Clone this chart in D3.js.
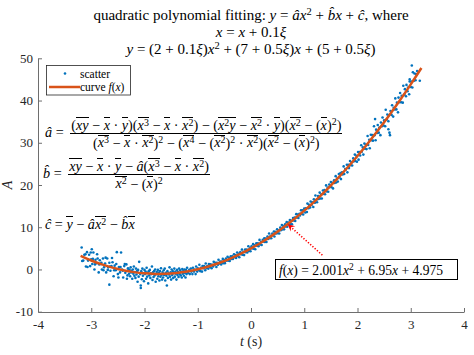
<!DOCTYPE html>
<html><head><meta charset="utf-8">
<script src="https://cdn.jsdelivr.net/npm/d3@7"></script>
<style>
html,body{margin:0;padding:0;background:#fff;}
#wrap{position:relative;width:474px;height:355px;overflow:hidden;font-family:"Liberation Serif","Times New Roman",serif;color:#000;}
svg{position:absolute;left:0;top:0;}
.m{font-style:italic;}
.title{position:absolute;left:0;width:502px;text-align:center;font-size:15px;line-height:16px;white-space:nowrap;}
.eq{position:absolute;font-size:14.2px;white-space:nowrap;line-height:1;}
.frac{display:inline-flex;flex-direction:column;align-items:center;vertical-align:middle;margin-left:3px;}
.num{border-bottom:0.8px solid #000;padding:0 1px 1px;line-height:0.95;}
.den{padding:1px 1px 0;line-height:0.95;}
.ol{display:inline-block;border-top:0.8px solid #000;padding-top:0.5px;line-height:0.9;}
sup{font-size:0.7em;vertical-align:0.45em;line-height:0;}
</style>
</head><body>
<div id="wrap">
<svg id="chart" width="474" height="355"></svg>
<div class="title" style="top:7px">quadratic polynomial fitting: <span class="m">y</span> = <span class="m">âx</span><sup>2</sup> + <span class="m">b̂x</span> + <span class="m">ĉ</span>, where</div>
<div class="title" style="top:23.5px"><span class="m">x</span> = <span class="m">x</span> + 0.1<span class="m">ξ</span></div>
<div class="title" style="top:41px"><span class="m">y</span> = (2 + 0.1<span class="m">ξ</span>)<span class="m">x</span><sup>2</sup> + (7 + 0.5<span class="m">ξ</span>)<span class="m">x</span> + (5 + 0.5<span class="m">ξ</span>)</div>

<div class="eq" style="left:45px;top:117px"><span class="m">â</span> = <span class="frac"><span class="num">(<span class="ol m">xy</span> − <span class="ol m">x</span> · <span class="ol m">y</span>)(<span class="ol"><span class="m">x</span><sup>3</sup></span> − <span class="ol m">x</span> · <span class="ol"><span class="m">x</span><sup>2</sup></span>) − (<span class="ol"><span class="m">x</span><sup>2</sup><span class="m">y</span></span> − <span class="ol"><span class="m">x</span><sup>2</sup></span> · <span class="ol m">y</span>)(<span class="ol"><span class="m">x</span><sup>2</sup></span> − (<span class="ol m">x</span>)<sup>2</sup>)</span><span class="den">(<span class="ol"><span class="m">x</span><sup>3</sup></span> − <span class="ol m">x</span> · <span class="ol"><span class="m">x</span><sup>2</sup></span>)<sup>2</sup> − (<span class="ol"><span class="m">x</span><sup>4</sup></span> − (<span class="ol"><span class="m">x</span><sup>2</sup></span>)<sup>2</sup> · <span class="ol"><span class="m">x</span><sup>2</sup></span>)(<span class="ol"><span class="m">x</span><sup>2</sup></span> − (<span class="ol m">x</span>)<sup>2</sup>)</span></span></div>

<div class="eq" style="left:43px;top:158px"><span class="m">b̂</span> = <span class="frac"><span class="num"><span class="ol m">xy</span> − <span class="ol m">x</span> · <span class="ol m">y</span> − <span class="m">â</span>(<span class="ol"><span class="m">x</span><sup>3</sup></span> − <span class="ol m">x</span> · <span class="ol"><span class="m">x</span><sup>2</sup></span>)</span><span class="den"><span class="ol"><span class="m">x</span><sup>2</sup></span> − (<span class="ol m">x</span>)<sup>2</sup></span></span></div>

<div class="eq" style="left:45px;top:216px"><span class="m">ĉ</span> = <span class="ol m">y</span> − <span class="m">â</span><span class="ol"><span class="m">x</span><sup>2</sup></span> − <span class="m">b̂</span><span class="ol m">x</span></div>
</div>
<script>
const xTicks = [-4, -3, -2, -1, 0, 1, 2, 3, 4];
const yTicks = [-10, 0, 10, 20, 30, 40, 50];
const legendLabels = ["scatter", "curve f(x)"];
// fitted curve f(x) = 2.001x^2 + 6.95x + 4.975 sampled
const curveX = [-3.2,-3.0,-2.8,-2.6,-2.4,-2.2,-2.0,-1.8,-1.6,-1.4,-1.2,-1.0,-0.8,-0.6,-0.4,-0.2,0,0.2,0.4,0.6,0.8,1.0,1.2,1.4,1.6,1.8,2.0,2.2,2.4,2.6,2.8,3.0,3.2];
const curveY = [3.23,2.13,1.20,0.43,-0.18,-0.63,-0.92,-1.05,-1.02,-0.83,-0.48,0.03,0.70,1.53,2.52,3.67,4.98,6.45,8.08,9.87,11.82,13.93,16.20,18.63,21.22,23.97,26.88,29.95,33.18,36.57,40.12,43.83,47.71];
// annotation arrow: tail and head in data units
const arrowTail = [1.34, 3.4];
const arrowHead = [0.69, 10.7];
const scatterPts = [
[-3.18,5.2],[-3.17,2.0],[-3.15,2.1],[-3.13,3.5],[-3.11,3.6],[-3.10,0.7],[-3.08,4.1],[-3.07,0.6],[-3.06,2.1],[-3.04,3.5],[-3.02,0.8],[-3.01,4.0],[-3.00,2.4],[-2.99,4.8],[-2.98,1.3],[-2.97,2.5],[-2.96,4.0],[-2.94,0.0],[-2.93,1.2],[-2.92,2.3],[-2.90,1.5],[-2.89,3.6],[-2.88,2.6],[-2.86,-0.7],[-2.85,1.2],[-2.84,2.2],[-2.82,1.3],[-2.81,1.6],[-2.80,0.0],[-2.78,2.6],[-2.77,-0.2],[-2.76,0.5],[-2.74,1.4],[-2.73,2.8],[-2.72,-0.7],[-2.70,2.6],[-2.69,-0.1],[-2.68,0.5],[-2.66,1.6],[-2.66,-3.6],[-2.65,0.7],[-2.64,-0.3],[-2.62,0.8],[-2.61,2.7],[-2.60,1.7],[-2.58,-1.6],[-2.57,-0.2],[-2.56,0.9],[-2.54,-0.2],[-2.53,1.3],[-2.52,4.1],[-2.50,-1.1],[-2.49,-1.9],[-2.48,0.6],[-2.46,-0.7],[-2.45,0.6],[-2.44,4.0],[-2.42,0.0],[-2.41,-0.3],[-2.40,-1.9],[-2.38,0.8],[-2.37,1.3],[-2.36,-0.8],[-2.34,1.2],[-2.33,-2.2],[-2.32,-1.4],[-2.31,0.3],[-2.30,0.0],
[-2.29,-1.0],[-2.28,-0.1],[-2.27,-1.6],[-2.26,0.5],[-2.25,-0.7],[-2.24,-0.3],[-2.23,-2.2],[-2.22,0.0],[-2.21,-1.0],[-2.20,0.7],[-2.19,-1.5],[-2.18,-0.6],[-2.17,-2.0],[-2.16,0.2],[-2.15,-1.2],[-2.14,-0.4],[-2.13,-2.9],[-2.12,-0.1],[-2.11,-1.7],[-2.10,1.8],[-2.08,-1.1],[-2.07,-4.4],[-2.07,-3.8],[-2.06,-0.4],[-2.05,-2.3],[-2.04,0.2],[-2.03,-1.5],[-2.02,-0.9],[-2.01,-2.8],[-2.00,-0.1],[-1.99,-1.1],[-1.98,-0.5],[-1.97,-2.2],[-1.96,0.4],[-1.95,-1.7],[-1.94,-0.8],[-1.93,-3.3],[-1.92,-0.4],[-1.91,-1.4],[-1.90,-0.1],[-1.89,-2.0],[-1.88,-0.9],[-1.87,-1.1],[-1.86,0.7],[-1.85,-2.5],[-1.84,-0.7],[-1.83,-1.8],[-1.82,-0.4],[-1.81,-1.4],[-1.80,0.0],[-1.79,-2.9],[-1.78,-1.1],[-1.77,-0.6],[-1.76,-2.2],[-1.75,-0.1],[-1.74,-1.6],[-1.73,-0.8],[-1.72,-2.6],[-1.71,-0.4],[-1.70,-1.7],[-1.69,0.3],[-1.68,-1.3],[-1.67,-2.4],[-1.66,-0.7],[-1.65,-1.9],[-1.64,-0.2],[-1.63,-1.3],[-1.62,0.2],[-1.61,-2.6],[-1.60,-0.8],[-1.59,-1.5],[-1.58,-3.8],[-1.57,-0.4],[-1.56,-2.0],[-1.55,-0.9],[-1.54,-1.2],[-1.53,0.5],[-1.52,-1.7],[-1.51,-0.7],[-1.50,-2.4],[-1.49,0.0],[-1.48,-1.3],[-1.47,-0.4],[-1.46,-2.0],[-1.45,-0.9],[-1.44,0.2],[-1.43,-1.7],[-1.42,-0.5],[-1.41,-1.0],[-1.40,-2.4],[-1.39,-0.1],[-1.38,-1.3],[-1.37,-0.6],[-1.36,-1.8],[-1.35,0.2],[-1.34,-1.1],[-1.33,-0.2],[-1.32,-1.4],[-1.31,-0.6],[-1.30,-1.9],[-1.29,0.1],[-1.28,-1.0],[-1.27,-0.3],[-1.26,-1.5],[-1.25,0.0],[-1.24,-0.8],[-1.23,-1.9],[-1.22,-0.1],[-1.21,-1.1],[-1.20,0.4],
[-1.18,-0.8],[-1.16,-0.1],[-1.15,-1.1],[-1.13,0.2],[-1.12,-0.5],[-1.10,-1.1],[-1.09,0.4],[-1.07,-0.5],[-1.06,0.0],[-1.04,-1.1],[-1.03,0.7],[-1.01,-0.5],[-1.00,0.3],[-0.98,-0.1],[-0.97,1.1],[-0.95,-0.4],[-0.94,0.4],[-0.92,-0.5],[-0.91,0.8],[-0.89,0.3],[-0.88,0.8],[-0.86,-0.2],[-0.85,1.4],[-0.83,0.3],[-0.82,0.8],[-0.80,0.2],[-0.79,1.3],[-0.77,0.6],[-0.76,1.2],[-0.74,0.3],[-0.73,1.1],[-0.71,0.7],[-0.70,1.8],[-0.68,1.1],[-0.67,1.6],[-0.65,0.6],[-0.64,1.6],[-0.62,1.1],[-0.61,2.3],[-0.59,1.4],[-0.58,1.9],[-0.56,1.2],[-0.55,1.9],[-0.53,2.5],[-0.52,1.5],[-0.50,2.2],[-0.49,1.5],[-0.47,2.6],[-0.46,2.1],[-0.44,3.0],[-0.43,2.1],[-0.41,2.7],[-0.40,2.0],[-0.38,3.1],[-0.37,2.5],[-0.35,3.1],[-0.34,2.5],[-0.32,3.6],[-0.31,2.9],
[-0.29,3.4],[-0.28,2.7],[-0.26,4.0],[-0.25,3.2],[-0.23,3.7],[-0.22,2.9],[-0.20,4.1],[-0.19,3.6],[-0.17,4.7],[-0.16,3.5],[-0.14,4.2],[-0.13,3.4],[-0.11,4.7],[-0.10,4.1],[-0.08,4.7],[-0.07,4.0],[-0.05,5.5],[-0.04,4.4],[-0.02,5.0],[-0.01,4.3],[0.01,5.5],[0.02,5.0],[0.04,6.0],[0.05,4.9],[0.07,5.7],[0.08,4.8],[0.10,6.2],[0.11,5.6],[0.13,6.2],[0.14,5.5],[0.16,7.0],[0.17,5.9],[0.19,6.5],[0.20,5.8],[0.22,7.0],[0.23,6.6],[0.25,7.4],[0.26,6.5],[0.28,7.3],[0.29,6.5],[0.31,7.8],[0.32,7.2],[0.34,8.5],[0.35,7.4],[0.37,8.0],[0.38,7.4],[0.40,8.5],[0.41,8.1],[0.43,9.0],[0.44,7.8],[0.46,8.9],[0.47,8.5],[0.49,9.5],[0.50,8.6],[0.52,9.2],[0.53,8.5],[0.55,9.9],[0.56,9.3],[0.58,10.5],[0.59,9.5],[0.61,10.2],[0.62,9.5],[0.64,10.7],[0.65,10.2],[0.67,11.2],[0.68,10.1],[0.70,11.1],[0.71,10.7],[0.73,11.7],[0.74,10.8],[0.76,11.5],[0.77,10.7],[0.79,12.2],[0.80,11.6],[0.82,12.3],[0.83,11.5],[0.85,13.1],[0.86,12.3],[0.88,13.0],[0.89,12.2],[0.91,13.2],[0.92,12.8],[0.94,14.0],[0.95,13.2],[0.97,14.0],[0.98,13.0],
[1.00,14.4],[1.02,13.5],[1.03,14.5],[1.05,13.6],[1.06,15.6],[1.08,14.5],[1.09,15.3],[1.11,14.7],[1.12,16.1],[1.14,15.3],[1.15,15.9],[1.17,14.8],[1.18,16.6],[1.20,15.8],[1.21,17.5],[1.23,16.5],[1.24,15.9],[1.26,17.4],[1.27,16.7],[1.29,18.2],[1.30,16.8],[1.32,17.8],[1.33,16.8],[1.35,18.7],[1.36,17.9],[1.38,18.8],[1.39,17.8],[1.41,19.9],[1.42,18.5],[1.44,19.4],[1.45,18.4],[1.47,20.1],[1.48,19.5],[1.50,20.7],[1.51,19.5],[1.53,20.5],[1.54,19.2],[1.56,21.1],[1.57,20.5],[1.59,22.1],[1.60,20.6],[1.62,21.6],[1.63,20.8],[1.65,22.6],[1.66,21.8],[1.68,22.8],[1.69,21.4],[1.71,23.0],[1.72,22.5],[1.74,24.4],[1.75,22.6],[1.77,23.8],[1.78,23.6],[1.80,24.8],[1.81,23.0],[1.83,24.8],[1.84,24.0],[1.86,25.7],[1.87,24.7],[1.89,25.4],[1.90,24.6],[1.92,26.3],[1.93,25.6],[1.95,27.2],[1.96,25.7],[1.98,26.9],[1.99,25.5],
[2.01,27.8],[2.02,26.0],[2.04,27.8],[2.05,27.0],[2.07,29.4],[2.08,27.9],[2.10,28.9],[2.11,27.2],[2.13,29.8],[2.14,28.6],[2.16,29.5],[2.17,28.5],[2.19,31.6],[2.20,29.5],[2.22,30.7],[2.23,28.7],[2.25,31.9],[2.26,30.6],[2.28,31.8],[2.29,30.5],[2.31,33.9],[2.32,31.8],[2.33,35.6],[2.34,30.6],[2.35,33.1],[2.37,32.3],[2.38,34.2],[2.40,32.4],[2.41,33.6],[2.43,31.8],[2.44,34.8],[2.46,33.9],[2.47,36.0],[2.49,34.1],[2.50,35.3],[2.52,33.9],[2.53,37.8],[2.55,35.5],[2.56,36.7],[2.58,35.1],[2.58,33.2],[2.59,36.5],[2.60,32.4],[2.61,31.8],[2.62,37.5],[2.64,36.6],[2.65,38.9],[2.67,36.2],[2.68,38.3],[2.70,37.9],[2.71,40.5],[2.73,37.9],[2.74,39.5],[2.76,37.2],[2.77,40.7],[2.79,39.6],[2.80,41.8],[2.82,39.6],[2.83,41.1],[2.85,39.5],[2.86,43.5],[2.88,41.4],[2.89,42.7],[2.91,41.0],[2.92,43.7],[2.94,42.2],[2.95,43.1],[2.97,41.5],[2.98,44.5],[2.98,45.0],[3.00,43.2],[3.01,44.5],[3.02,48.3],[3.03,43.1],[3.04,46.7],[3.06,44.7],[3.07,46.4],[3.09,44.8],[3.10,46.3],[3.12,47.0],[3.17,44.7]
];

const svg = d3.select("#chart");
const x = d3.scaleLinear().domain([-4, 4]).range([38, 464]);
const y = d3.scaleLinear().domain([-10, 50]).range([311.7, 58.3]);
const axisColor = "#6e6e6e";
const textColor = "#262626";
const serif = "'Liberation Serif', 'Times New Roman', serif";

// axes
const gx = svg.append("g").attr("transform", "translate(0,312)")
  .call(d3.axisBottom(x).tickValues(xTicks).tickSizeInner(-4).tickSizeOuter(0).tickPadding(8).tickFormat(d3.format("d")));
const gy = svg.append("g").attr("transform", "translate(38,0)")
  .call(d3.axisLeft(y).tickValues(yTicks).tickSizeInner(-4).tickSizeOuter(0).tickPadding(5).tickFormat(d3.format("d")));
[gx, gy].forEach(g => {
  g.select(".domain").attr("stroke", axisColor);
  g.selectAll(".tick line").attr("stroke", axisColor);
  g.selectAll(".tick text").attr("fill", textColor)
    .style("font-family", serif).style("font-size", "13px")
    .text(d => d < 0 ? "-" + Math.abs(d) : d);
});

// axis labels
const xl = svg.append("text").attr("x", x(0)).attr("y", 345.5).attr("text-anchor", "middle")
  .style("font-family", serif).style("font-size", "14px").attr("fill", textColor);
xl.append("tspan").attr("font-style", "italic").text("t");
xl.append("tspan").text(" (s)");
svg.append("text").attr("transform", `translate(7,${(y(50)+y(-10))/2}) rotate(-90)`)
  .attr("text-anchor", "middle").attr("dy", "0.35em")
  .style("font-family", serif).style("font-size", "14px").style("font-style", "italic")
  .attr("fill", textColor).text("A");

// scatter
svg.append("g").selectAll("circle").data(scatterPts).join("circle")
  .attr("cx", d => x(d[0])).attr("cy", d => y(d[1])).attr("r", 1.3).attr("fill", "#0072BD");

// curve
const curveData = curveX.map((v, i) => [v, curveY[i]]);
svg.append("path").datum(curveData)
  .attr("d", d3.line().x(d => x(d[0])).y(d => y(d[1])).curve(d3.curveNatural))
  .attr("fill", "none").attr("stroke", "#D95319").attr("stroke-width", 2.5);

// arrow annotation
const tx = x(arrowTail[0]), ty = y(arrowTail[1]);
const hx = x(arrowHead[0]), hy = y(arrowHead[1]);
const ang = Math.atan2(hy - ty, hx - tx);
const hl = 7, hw = 3.5;
const bx = hx - hl * Math.cos(ang), by = hy - hl * Math.sin(ang);
svg.append("line").attr("x1", tx).attr("y1", ty).attr("x2", bx + 2*Math.cos(ang)).attr("y2", by + 2*Math.sin(ang))
  .attr("stroke", "#ff0000").attr("stroke-width", 1.6).attr("stroke-dasharray", "1.3,1.7");
const px = -Math.sin(ang), py = Math.cos(ang);
svg.append("path")
  .attr("d", `M${hx},${hy}L${bx + hw*px},${by + hw*py}L${bx + 2.5*Math.cos(ang)},${by + 2.5*Math.sin(ang)}L${bx - hw*px},${by - hw*py}Z`)
  .attr("fill", "#ff0000");

// annotation box
svg.append("rect").attr("x", 275.5).attr("y", 259.5).attr("width", 182).attr("height", 20)
  .attr("fill", "#fff").attr("stroke", "#000").attr("stroke-width", 1);
const ft = svg.append("text").attr("x", 279).attr("y", 274.5)
  .style("font-family", serif).style("font-size", "13.6px").attr("fill", "#000");
ft.append("tspan").attr("font-style", "italic").text("f");
ft.append("tspan").text("(");
ft.append("tspan").attr("font-style", "italic").text("x");
ft.append("tspan").text(") = 2.001");
ft.append("tspan").attr("font-style", "italic").text("x");
ft.append("tspan").attr("font-size", "9.5px").attr("dy", -5).text("2");
ft.append("tspan").attr("dy", 5).text(" + 6.95");
ft.append("tspan").attr("font-style", "italic").text("x");
ft.append("tspan").text(" + 4.975");

// legend
const lg = svg.append("g");
lg.append("rect").attr("x", 46.5).attr("y", 65.5).attr("width", 84).attr("height", 29.5)
  .attr("fill", "#fff").attr("stroke", "#262626").attr("stroke-width", 0.8);
lg.append("circle").attr("cx", 65).attr("cy", 73.5).attr("r", 1.3).attr("fill", "#0072BD");
lg.append("line").attr("x1", 49).attr("x2", 80).attr("y1", 87).attr("y2", 87)
  .attr("stroke", "#D95319").attr("stroke-width", 2.5);
lg.append("text").attr("x", 80).attr("y", 78)
  .style("font-family", serif).style("font-size", "11.5px").attr("fill", "#000").text(legendLabels[0]);
const l2 = lg.append("text").attr("x", 80).attr("y", 91)
  .style("font-family", serif).style("font-size", "11.5px").attr("fill", "#000");
l2.append("tspan").text("curve ");
l2.append("tspan").attr("font-style", "italic").text("f");
l2.append("tspan").text("(");
l2.append("tspan").attr("font-style", "italic").text("x");
l2.append("tspan").text(")");
</script>
</body></html>
